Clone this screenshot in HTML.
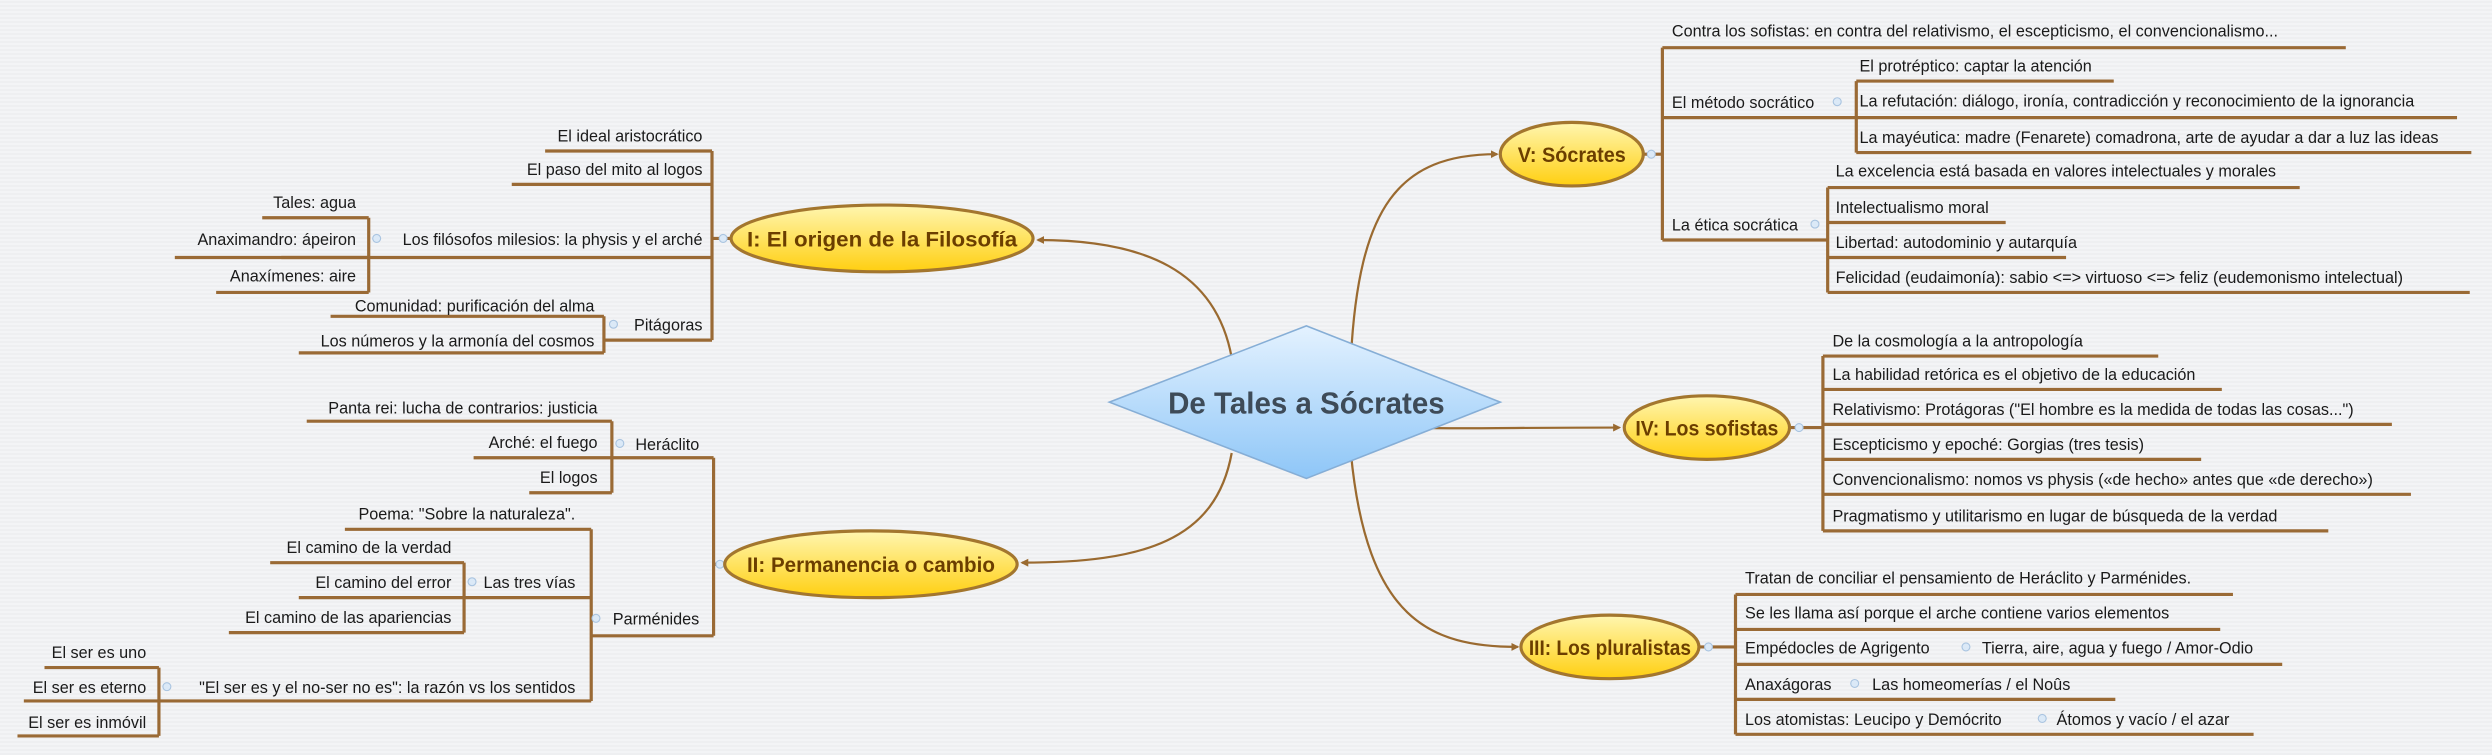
<!DOCTYPE html>
<html><head><meta charset="utf-8">
<style>
html,body{margin:0;padding:0;}
body{width:2492px;height:755px;overflow:hidden;background:#f0f1f3;
background-image:repeating-linear-gradient(0deg,#eeeff1 0px,#eeeff1 2px,#f3f4f6 2px,#f3f4f6 4px);}
svg{display:block;}
text{font-family:"Liberation Sans",sans-serif;font-size:10.2px;fill:#1a1a1a;}
.e{text-anchor:end;}
.t{font-weight:bold;font-size:13.5px;fill:#6b3e00;text-anchor:middle;}
</style></head><body>
<svg width="2492" height="755" viewBox="0 0 1568 475" preserveAspectRatio="none" xmlns="http://www.w3.org/2000/svg">
<defs>
<linearGradient id="y" x1="0" y1="0" x2="0" y2="1"><stop offset="0" stop-color="#fff6b0"/><stop offset="1" stop-color="#ffcf10"/></linearGradient>
<linearGradient id="b" x1="0" y1="0" x2="0" y2="1"><stop offset="0" stop-color="#e4f2ff"/><stop offset="1" stop-color="#8ec6f7"/></linearGradient>
<marker id="a" markerWidth="5" markerHeight="5" refX="4" refY="2.5" orient="auto" markerUnits="userSpaceOnUse"><path d="M0,0 L5,2.5 L0,5 z" fill="#9a6a30"/></marker>
</defs>
<g fill="none" stroke="#9a6a30" stroke-width="1.4">
<path d="M775,225 C765,170 720,151 653,151" marker-end="url(#a)"/>
<path d="M775,285 C765,340 720,354 643,354" marker-end="url(#a)"/>
<path d="M850,225 C855,130 880,97 942,97" marker-end="url(#a)"/>
<path d="M852,262 C870,272 900,269 1019,269" marker-end="url(#a)"/>
<path d="M850,285 C860,390 900,407 955,407" marker-end="url(#a)"/>
</g>
<g fill="none" stroke="#9a6a35" stroke-width="2">
<path d="M460,150 H448 M448,95 V214"/>
<path d="M343,95 H448 M322,116 H448 M177,162 H448 M380,214 H448"/>
<path d="M232,137 V184 M165,137 H232 M110,162 H232 M136,184 H232"/>
<path d="M380,199 V222 M208,199 H380 M188,222 H380"/>
<path d="M456,355 H449 M449,288 V400"/>
<path d="M298,288 H449 M372,400 H449"/>
<path d="M385,265 V310 M193,265 H385 M333,310 H385"/>
<path d="M372,333 V441 M217,333 H372 M188,376 H372 M100,441 H372"/>
<path d="M292,354 V398 M170,354 H292 M144,398 H292"/>
<path d="M100,420 V463 M28,420 H100 M15,441 H100 M11,463 H100"/>
<path d="M1034,97 H1046 M1046,30 V151"/>
<path d="M1046,30 H1476 M1046,74 H1168 M1046,151 H1150"/>
<path d="M1168,51 V96 M1168,51 H1330 M1168,74 H1546 M1168,96 H1555"/>
<path d="M1150,118 V184 M1150,118 H1447 M1150,140 H1262 M1150,162 H1300 M1150,184 H1554"/>
<path d="M1126,269 H1147 M1147,224 V334"/>
<path d="M1147,224 H1358 M1147,245 H1398 M1147,267 H1505 M1147,289 H1385 M1147,311 H1517 M1147,334 H1465"/>
<path d="M1069,407 H1092 M1092,374 V462"/>
<path d="M1092,374 H1405 M1092,396 H1397 M1092,418 H1436 M1092,440 H1331 M1092,462 H1418"/>
</g>
<g fill="#dbe9f7" stroke="#a9c4e0" stroke-width="0.7">
<circle cx="455" cy="150" r="2.5"/><circle cx="237" cy="150" r="2.5"/><circle cx="386" cy="204" r="2.5"/>
<circle cx="453" cy="355" r="2.5"/><circle cx="390" cy="279" r="2.5"/><circle cx="375" cy="389" r="2.5"/>
<circle cx="297" cy="366" r="2.5"/><circle cx="105" cy="432" r="2.5"/>
<circle cx="1039" cy="97" r="2.5"/><circle cx="1156" cy="64" r="2.5"/><circle cx="1142" cy="141" r="2.5"/>
<circle cx="1132" cy="269" r="2.5"/><circle cx="1075" cy="407" r="2.5"/>
<circle cx="1237" cy="407" r="2.5"/><circle cx="1167" cy="430" r="2.5"/><circle cx="1285" cy="452" r="2.5"/>
</g>
<polygon points="822,205 944,253 822,301 698,253" fill="url(#b)" stroke="#86aed6" stroke-width="1"/>
<text x="822" y="260" textLength="174" lengthAdjust="spacingAndGlyphs" style="font-size:19px;font-weight:bold;fill:#3e4b58;text-anchor:middle">De Tales a Sócrates</text>
<g stroke="#a3762e" stroke-width="2" fill="url(#y)">
<ellipse cx="555" cy="150" rx="95" ry="21"/>
<ellipse cx="548" cy="355" rx="92" ry="21"/>
<ellipse cx="989" cy="97" rx="45" ry="20"/>
<ellipse cx="1074" cy="269" rx="52" ry="20"/>
<ellipse cx="1013" cy="407" rx="56" ry="20"/>
</g>
<text class="t" x="555" y="155" textLength="170" lengthAdjust="spacingAndGlyphs">I: El origen de la Filosofía</text>
<text class="t" x="548" y="360" textLength="156" lengthAdjust="spacingAndGlyphs">II: Permanencia o cambio</text>
<text class="t" x="989" y="102" textLength="68" lengthAdjust="spacingAndGlyphs">V: Sócrates</text>
<text class="t" x="1074" y="274" textLength="90" lengthAdjust="spacingAndGlyphs">IV: Los sofistas</text>
<text class="t" x="1013" y="412" textLength="102" lengthAdjust="spacingAndGlyphs">III: Los pluralistas</text>
<text class="e" x="442" y="89">El ideal aristocrático</text>
<text class="e" x="442" y="110">El paso del mito al logos</text>
<text class="e" x="442" y="154">Los filósofos milesios: la physis y el arché</text>
<text class="e" x="442" y="208">Pitágoras</text>
<text class="e" x="224" y="131">Tales: agua</text>
<text class="e" x="224" y="154">Anaximandro: ápeiron</text>
<text class="e" x="224" y="177">Anaxímenes: aire</text>
<text class="e" x="374" y="196">Comunidad: purificación del alma</text>
<text class="e" x="374" y="218">Los números y la armonía del cosmos</text>
<text class="e" x="440" y="283">Heráclito</text>
<text class="e" x="440" y="393">Parménides</text>
<text class="e" x="376" y="260">Panta rei: lucha de contrarios: justicia</text>
<text class="e" x="376" y="282">Arché: el fuego</text>
<text class="e" x="376" y="304">El logos</text>
<text class="e" x="362" y="327">Poema: "Sobre la naturaleza".</text>
<text class="e" x="362" y="370">Las tres vías</text>
<text class="e" x="362" y="436">"El ser es y el no-ser no es": la razón vs los sentidos</text>
<text class="e" x="284" y="348">El camino de la verdad</text>
<text class="e" x="284" y="370">El camino del error</text>
<text class="e" x="284" y="392">El camino de las apariencias</text>
<text class="e" x="92" y="414">El ser es uno</text>
<text class="e" x="92" y="436">El ser es eterno</text>
<text class="e" x="92" y="458">El ser es inmóvil</text>
<text x="1052" y="23">Contra los sofistas: en contra del relativismo, el escepticismo, el convencionalismo...</text>
<text x="1052" y="68">El método socrático</text>
<text x="1052" y="145">La ética socrática</text>
<text x="1170" y="45">El protréptico: captar la atención</text>
<text x="1170" y="67">La refutación: diálogo, ironía, contradicción y reconocimiento de la ignorancia</text>
<text x="1170" y="90">La mayéutica: madre (Fenarete) comadrona, arte de ayudar a dar a luz las ideas</text>
<text x="1155" y="111">La excelencia está basada en valores intelectuales y morales</text>
<text x="1155" y="134">Intelectualismo moral</text>
<text x="1155" y="156">Libertad: autodominio y autarquía</text>
<text x="1155" y="178">Felicidad (eudaimonía): sabio &lt;=&gt; virtuoso &lt;=&gt; feliz (eudemonismo intelectual)</text>
<text x="1153" y="218">De la cosmología a la antropología</text>
<text x="1153" y="239">La habilidad retórica es el objetivo de la educación</text>
<text x="1153" y="261">Relativismo: Protágoras ("El hombre es la medida de todas las cosas...")</text>
<text x="1153" y="283">Escepticismo y epoché: Gorgias (tres tesis)</text>
<text x="1153" y="305">Convencionalismo: nomos vs physis («de hecho» antes que «de derecho»)</text>
<text x="1153" y="328">Pragmatismo y utilitarismo en lugar de búsqueda de la verdad</text>
<text x="1098" y="367">Tratan de conciliar el pensamiento de Heráclito y Parménides.</text>
<text x="1098" y="389">Se les llama así porque el arche contiene varios elementos</text>
<text x="1098" y="411">Empédocles de Agrigento</text>
<text x="1247" y="411">Tierra, aire, agua y fuego / Amor-Odio</text>
<text x="1098" y="434">Anaxágoras</text>
<text x="1178" y="434">Las homeomerías / el Noûs</text>
<text x="1098" y="456">Los atomistas: Leucipo y Demócrito</text>
<text x="1294" y="456">Átomos y vacío / el azar</text>
</svg>
</body></html>
